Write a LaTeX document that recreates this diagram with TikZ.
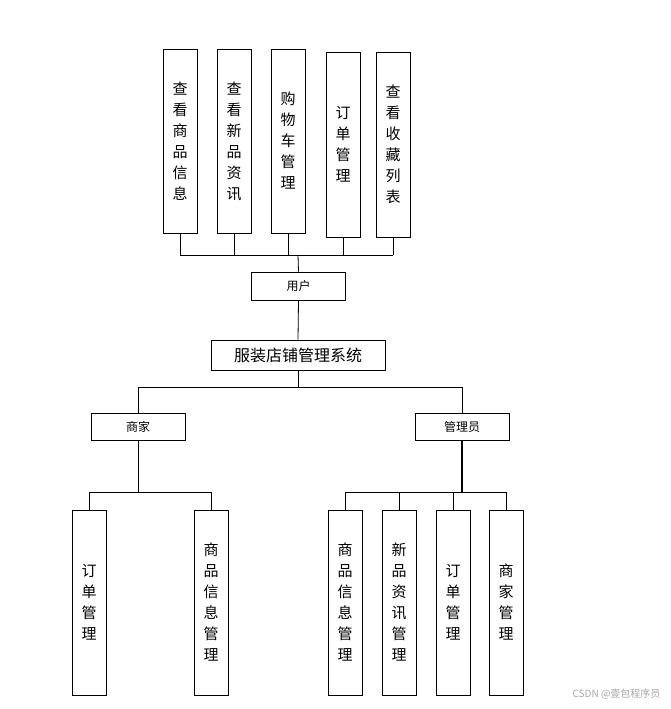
\documentclass[tikz,border=0pt]{standalone}
\usepackage{fontspec}
\newfontfamily\cjk{Noto Sans CJK SC}
\begin{document}
\begin{tikzpicture}[x=1pt,y=-1pt,
  vbox/.style={draw,line width=0.8pt,minimum width=34pt,align=center,inner sep=0pt,font=\cjk\fontsize{15}{21}\selectfont},
  hbox/.style={draw,line width=0.8pt,minimum width=94pt,minimum height=28pt,inner sep=0pt,font=\cjk\fontsize{12}{14}\selectfont},
  ln/.style={line width=0.8pt}]
\useasboundingbox (0,0) rectangle (671,709);
\node[vbox,minimum height=184pt] (t1) at (180,141) {查\\看\\商\\品\\信\\息};
\node[vbox,minimum height=184pt] (t2) at (234,141) {查\\看\\新\\品\\资\\讯};
\node[vbox,minimum height=184pt] (t3) at (288,141) {购\\物\\车\\管\\理};
\node[vbox,minimum height=185pt] (t4) at (343,144.5) {订\\单\\管\\理};
\node[vbox,minimum height=185pt] (t5) at (393,144.5) {查\\看\\收\\藏\\列\\表};
\node[hbox] (u) at (298.5,286) {用户};
\node[draw,line width=0.8pt,minimum width=174pt,minimum height=30pt,inner sep=0pt,font=\cjk\fontsize{16}{18}\selectfont] (s) at (298,355) {服装店铺管理系统};
\node[hbox,minimum height=27pt] (m) at (138,426.5) {商家};
\node[hbox,minimum height=27pt] (a) at (462,426.5) {管理员};
\node[vbox,minimum height=185pt] (l1) at (89,602.5) {订\\单\\管\\理};
\node[vbox,minimum height=185pt] (l2) at (211,602.5) {商\\品\\信\\息\\管\\理};
\node[vbox,minimum height=185pt] (r1) at (345,602.5) {商\\品\\信\\息\\管\\理};
\node[vbox,minimum height=185pt] (r2) at (399,602.5) {新\\品\\资\\讯\\管\\理};
\node[vbox,minimum height=185pt] (r3) at (453,602.5) {订\\单\\管\\理};
\node[vbox,minimum height=185pt] (r4) at (506,602.5) {商\\家\\管\\理};
\coordinate (bt) at (298,255);
\foreach \n in {t1,t2,t3,t4,t5}{\draw[ln] (\n.south) -- (\n.south |- bt);}
\draw[ln] (t1.south |- bt) -- (t5.south |- bt);
\draw[ln] (bt) -- (u.north);
\draw[ln] (u.south) -- (s.north);
\coordinate (sb) at (298,387);
\draw[ln] (s.south) -- (sb);
\draw[ln] (m.north |- sb) -- (a.north |- sb);
\draw[ln] (m.north |- sb) -- (m.north);
\draw[ln] (a.north |- sb) -- (a.north);
\coordinate (mb) at (138,492);
\draw[ln] (m.south) -- (mb);
\draw[ln] (l1.north |- mb) -- (l2.north |- mb);
\draw[ln] (l1.north |- mb) -- (l1.north);
\draw[ln] (l2.north |- mb) -- (l2.north);
\coordinate (ab) at (462,492);
\draw[line width=1.6pt] (a.south) -- (ab);
\draw[ln] (r1.north |- ab) -- (r4.north |- ab);
\foreach \n in {r1,r2,r3,r4}{\draw[ln] (\n.north |- ab) -- (\n.north);}
\node[text=gray!70,font=\cjk\fontsize{10}{12}\selectfont,anchor=east] (wm) at (664,694) {CSDN @壹包程序员};
\end{tikzpicture}
\end{document}
